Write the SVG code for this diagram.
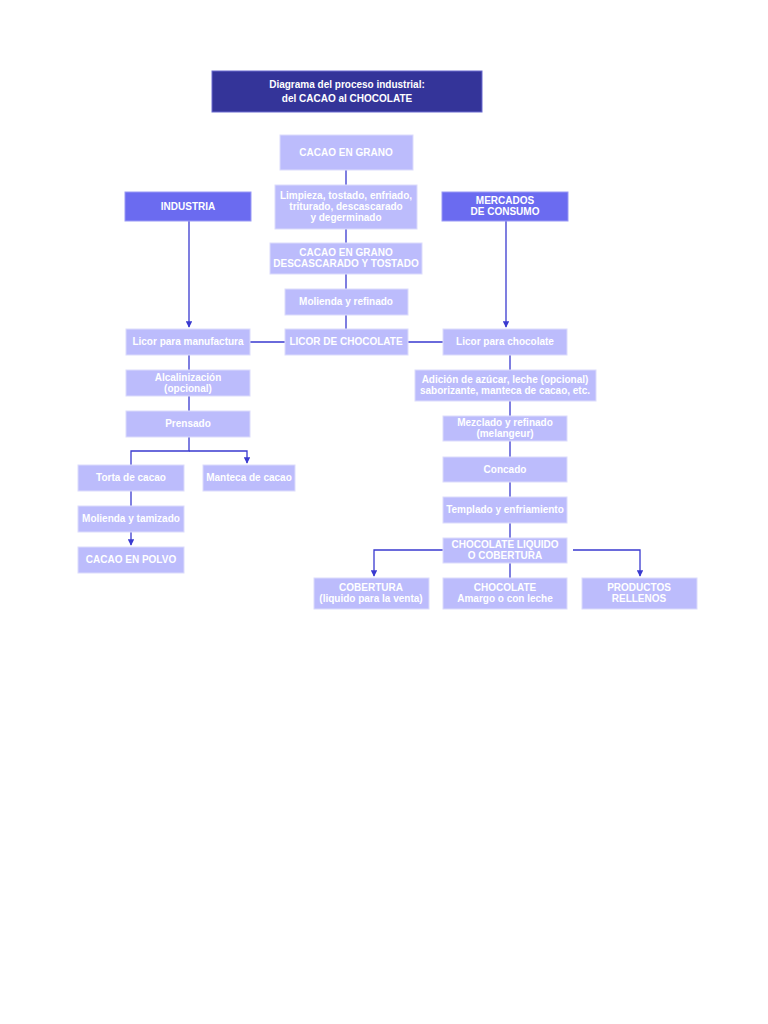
<svg xmlns="http://www.w3.org/2000/svg" width="768" height="1024" viewBox="0 0 768 1024">
<style>
.b{fill:#bcbcfc;stroke:#dcdcfc;stroke-width:1}
.h{fill:#6b6bf0;stroke:#9a9af5;stroke-width:1}
.t{fill:#ffffff;font-family:"Liberation Sans",Arial,sans-serif;font-size:10px;font-weight:bold;text-anchor:middle}
.c{fill:none;stroke:#3a3ad0;stroke-width:1.3}
</style>
<defs><marker id="a" viewBox="0 0 10 10" refX="9" refY="5" markerWidth="5" markerHeight="5" orient="auto"><path d="M0,0L10,5L0,10z" fill="#3a3ad0"/></marker></defs>
<rect width="768" height="1024" fill="#fff"/>
<g id="connectors">
<path class="c" d="M346,170V185M346,229V243M346,274V289M346,315V329"/>
<path class="c" d="M189,221V327" marker-end="url(#a)"/>
<path class="c" d="M506,221V327" marker-end="url(#a)"/>
<path class="c" d="M250,342H285M408,342H443"/>
<path class="c" d="M189,355V370M189,396V411M189,437V451H131V465"/>
<path class="c" d="M189,451H247V463" marker-end="url(#a)"/>
<path class="c" d="M131,491V506"/>
<path class="c" d="M131,532V545" marker-end="url(#a)"/>
<path class="c" d="M510,355V370M510,401V416M510,441V457M510,482V497M510,523V538M510,563V578"/>
<path class="c" d="M448,550H374V576" marker-end="url(#a)"/>
<path class="c" d="M573,550H640V576" marker-end="url(#a)"/>
</g>
<g id="title"><rect x="212" y="71" width="270" height="41" fill="#343499" stroke="#6a6ad0"/><text class="t" x="347" y="88" font-size="11">Diagrama del proceso industrial:</text><text class="t" x="347" y="102" font-size="11">del CACAO al CHOCOLATE</text></g>
<g id="n1"><rect class="b" x="280" y="135" width="133" height="35"/><text class="t" x="346" y="156">CACAO EN GRANO</text></g>
<g id="n2"><rect class="b" x="275" y="185" width="142" height="44"/><text class="t" x="346" y="199">Limpieza, tostado, enfriado,</text><text class="t" x="346" y="210">triturado, descascarado</text><text class="t" x="346" y="221">y degerminado</text></g>
<g id="ind"><rect class="h" x="125" y="192" width="126" height="29"/><text class="t" x="188" y="210">INDUSTRIA</text></g>
<g id="mer"><rect class="h" x="442" y="192" width="126" height="29"/><text class="t" x="505" y="204">MERCADOS</text><text class="t" x="505" y="215">DE CONSUMO</text></g>
<g id="n3"><rect class="b" x="270" y="243" width="152" height="31"/><text class="t" x="346" y="256">CACAO EN GRANO</text><text class="t" x="346" y="267">DESCASCARADO Y TOSTADO</text></g>
<g id="n4"><rect class="b" x="285" y="289" width="123" height="26"/><text class="t" x="346" y="305">Molienda y refinado</text></g>
<g id="n5"><rect class="b" x="285" y="329" width="123" height="26"/><text class="t" x="346" y="345">LICOR DE CHOCOLATE</text></g>
<g id="l1"><rect class="b" x="126" y="329" width="124" height="26"/><text class="t" x="188" y="345">Licor para manufactura</text></g>
<g id="r1"><rect class="b" x="443" y="329" width="124" height="26"/><text class="t" x="505" y="345">Licor para chocolate</text></g>
<g id="l2"><rect class="b" x="126" y="370" width="124" height="26"/><text class="t" x="188" y="381">Alcalinización</text><text class="t" x="188" y="392">(opcional)</text></g>
<g id="l3"><rect class="b" x="126" y="411" width="124" height="26"/><text class="t" x="188" y="427">Prensado</text></g>
<g id="l4"><rect class="b" x="78" y="465" width="106" height="26"/><text class="t" x="131" y="481">Torta de cacao</text></g>
<g id="l5"><rect class="b" x="203" y="465" width="92" height="26"/><text class="t" x="249" y="481">Manteca de cacao</text></g>
<g id="l6"><rect class="b" x="78" y="506" width="106" height="26"/><text class="t" x="131" y="522">Molienda y tamizado</text></g>
<g id="l7"><rect class="b" x="78" y="547" width="106" height="26"/><text class="t" x="131" y="563">CACAO EN POLVO</text></g>
<g id="r2"><rect class="b" x="415" y="370" width="181" height="31"/><text class="t" x="505" y="383">Adición de azúcar, leche (opcional)</text><text class="t" x="505" y="394">saborizante, manteca de cacao, etc.</text></g>
<g id="r3"><rect class="b" x="443" y="416" width="124" height="25"/><text class="t" x="505" y="426">Mezclado y refinado</text><text class="t" x="505" y="437">(melangeur)</text></g>
<g id="r4"><rect class="b" x="443" y="457" width="124" height="25"/><text class="t" x="505" y="473">Concado</text></g>
<g id="r5"><rect class="b" x="443" y="497" width="124" height="26"/><text class="t" x="505" y="513">Templado y enfriamiento</text></g>
<g id="r6"><rect class="b" x="443" y="538" width="124" height="25"/><text class="t" x="505" y="548">CHOCOLATE LIQUIDO</text><text class="t" x="505" y="559">O COBERTURA</text></g>
<g id="o1"><rect class="b" x="314" y="578" width="115" height="31"/><text class="t" x="371" y="591">COBERTURA</text><text class="t" x="371" y="602">(liquido para la venta)</text></g>
<g id="o2"><rect class="b" x="443" y="578" width="124" height="31"/><text class="t" x="505" y="591">CHOCOLATE</text><text class="t" x="505" y="602">Amargo o con leche</text></g>
<g id="o3"><rect class="b" x="582" y="578" width="115" height="31"/><text class="t" x="639" y="591">PRODUCTOS</text><text class="t" x="639" y="602">RELLENOS</text></g>
</svg>
